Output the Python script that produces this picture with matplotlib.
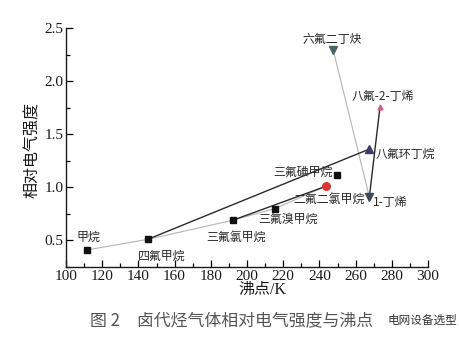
import matplotlib
matplotlib.use("Agg")
import matplotlib.pyplot as plt
from matplotlib.ticker import MultipleLocator

# boiling point [K] vs relative dielectric strength
names = ['甲烷', '四氟甲烷', '三氟氯甲烷', '三氟溴甲烷', '二氟二氯甲烷',
         '三氟碘甲烷', '八氟环丁烷', '1-丁烯', '八氟-2-丁烯', '六氟二丁炔']
boil = [111.4, 145.1, 192.1, 215.5, 243.6, 249.9, 267.6, 267.6, 273.5, 247.7]
strength = [0.41, 0.51, 0.69, 0.80, 1.01, 1.12, 1.36, 0.91, 1.76, 2.29]

# which points the hand-drawn lines join
gray_paths = [[0, 1, 2, 3, 4], [9, 7]]
dark_paths = [[1, 6], [2, 4], [7, 8]]

# marker style per point
markers = ['s', 's', 's', 's', 'o', 's', '^', 'v', '^', 'v']
mcolors = ['#111111', '#111111', '#111111', '#111111', '#d9383a', '#111111',
           '#3c3c6e', '#3d4a58', '#d0607e', '#4d6464']
msizes = [4.5, 4.5, 4.5, 4.5, 5.5, 4.5, 5.5, 5.5, 3.5, 5.5]

# label offsets from the marker, in pixels
label_off = [(-10, 13), (-10, -17), (-26, -17), (-17, -11), (-33, -13),
             (-64, 2), (6, -5), (4, -6), (-28, 10), (-31, 11)]

cjk = ['Noto Sans CJK SC', 'DejaVu Sans']
serif = 'Liberation Serif'

fig = plt.figure(figsize=(4.6, 3.4), dpi=100)
ax = fig.add_axes([66 / 460, 1 - 267 / 340, 362 / 460, 239 / 340])

for p in gray_paths:
    ax.plot([boil[i] for i in p], [strength[i] for i in p],
            color='#b4b4b4', lw=0.8, zorder=1)
for p in dark_paths:
    ax.plot([boil[i] for i in p], [strength[i] for i in p],
            color='#2a2a2a', lw=1.0, zorder=2)

for i in range(len(names)):
    ax.plot(boil[i], strength[i], marker=markers[i], ms=msizes[i],
            color=mcolors[i], ls='none', zorder=3)
    ax.annotate(names[i], (boil[i], strength[i]), xytext=label_off[i],
                textcoords='offset pixels', ha='left', va='center',
                fontsize=8.6, family=cjk, color='#2a2a2a')

ax.set_xlim(100, 300)
ax.set_ylim(0.25, 2.5)
ax.xaxis.set_major_locator(MultipleLocator(20))
ax.xaxis.set_minor_locator(MultipleLocator(10))
ax.yaxis.set_major_locator(MultipleLocator(0.5))
ax.yaxis.set_minor_locator(MultipleLocator(0.25))
ax.tick_params(which='both', direction='in', width=0.9, pad=2,
               labelsize=11, labelcolor='#1a1a1a')
ax.tick_params(which='major', length=5)
ax.tick_params(which='minor', length=3)
for lab in ax.get_xticklabels() + ax.get_yticklabels():
    lab.set_family(serif)
ax.yaxis.set_major_formatter(matplotlib.ticker.FormatStrFormatter('%.1f'))
for s in ['top', 'right']:
    ax.spines[s].set_visible(False)
for s in ['left', 'bottom']:
    ax.spines[s].set_linewidth(1.0)
    ax.spines[s].set_color('#1a1a1a')

fig.text(33 / 460, 1 - 150 / 340, '相对电气强度', rotation=90, ha='center',
         va='center', fontsize=11.5, family=cjk, color='#1a1a1a')
fig.text(262 / 460, 1 - 290 / 340, '沸点/K', ha='center', va='center',
         fontsize=11.5, family=[serif, 'Noto Sans CJK SC'], color='#1a1a1a')

fig.text(90 / 460, 1 - 320 / 340, '图 2　卤代烃气体相对电气强度与沸点',
         ha='left', va='center', fontsize=12.2, family=cjk, color='#555555')
fig.text(457 / 460, 1 - 320 / 340, '电网设备选型', ha='right', va='center',
         fontsize=8.4, family=cjk, color='#333333')

fig.savefig('out.png', dpi=100)
